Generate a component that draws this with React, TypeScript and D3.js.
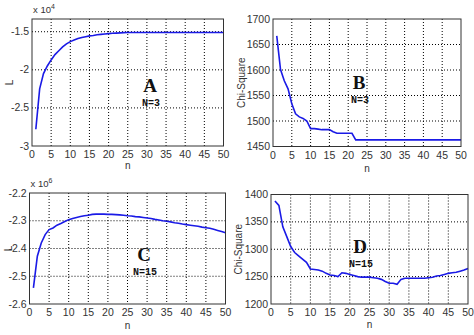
import React from "react";
import * as d3 from "d3";

// ---- Data ----
const nValues = d3.range(1, 51);

// Panel A: L (x 1e4), N=3
const seriesA = [
  -2.78, -2.25, -2.05, -1.95, -1.87, -1.8, -1.75, -1.7, -1.66, -1.63,
  -1.61, -1.59, -1.575, -1.565, -1.555, -1.55, -1.54, -1.535, -1.53, -1.525,
  -1.52, -1.518, -1.515, -1.512, -1.51, -1.51, -1.51, -1.51, -1.51, -1.51,
  -1.51, -1.51, -1.51, -1.51, -1.51, -1.51, -1.51, -1.51, -1.51, -1.51,
  -1.51, -1.51, -1.51, -1.51, -1.51, -1.51, -1.51, -1.51, -1.51, -1.51,
];

// Panel B: Chi-Square, N=3
const seriesB = [
  1667, 1601, 1579, 1563, 1534, 1514, 1508, 1505, 1500, 1485,
  1485, 1484, 1483, 1483, 1483, 1479, 1476, 1476, 1476, 1476,
  1476, 1463, 1463, 1463, 1463, 1463, 1463, 1463, 1463, 1463,
  1463, 1463, 1463, 1463, 1463, 1463, 1463, 1463, 1463, 1463,
  1463, 1463, 1463, 1463, 1463, 1463, 1463, 1463, 1463, 1463,
];

// Panel C: L (x 1e6), N=15
const seriesC = [
  -2.542, -2.428, -2.38, -2.35, -2.332, -2.326, -2.316, -2.31, -2.303, -2.296,
  -2.292, -2.288, -2.285, -2.282, -2.28, -2.277, -2.276, -2.276, -2.276, -2.277,
  -2.277, -2.278, -2.279, -2.28, -2.282, -2.283, -2.285, -2.286, -2.288, -2.29,
  -2.292, -2.295, -2.297, -2.3, -2.302, -2.304, -2.307, -2.309, -2.312, -2.314,
  -2.316, -2.318, -2.32, -2.323, -2.325, -2.327, -2.331, -2.335, -2.339, -2.343,
];

// Panel D: Chi-Square, N=15
const seriesD = [
  1388, 1380, 1341, 1323, 1305, 1294, 1288, 1282, 1276, 1264,
  1263, 1262, 1260, 1256, 1253, 1252, 1250, 1257, 1256, 1254,
  1252, 1250, 1249, 1249, 1249, 1248, 1247, 1245, 1241, 1238,
  1238, 1236, 1245, 1247, 1247, 1247, 1247, 1247, 1247, 1248,
  1249, 1251, 1252, 1254, 1256, 1257, 1258, 1260, 1262, 1265,
];

const xTicks = [0, 5, 10, 15, 20, 25, 30, 35, 40, 45, 50];
const yTicksA = [-3, -2.5, -2, -1.5];
const yTicksB = [1450, 1500, 1550, 1600, 1650, 1700];
const yTicksC = [-2.6, -2.5, -2.4, -2.3, -2.2];
const yTicksD = [1200, 1250, 1300, 1350, 1400];

const tickFont = "Liberation Sans, Arial, sans-serif";

type PanelProps = {
  left: number;
  right: number;
  top: number;
  bottom: number;
  yDomain: [number, number];
  yTicks: number[];
  values: number[];
  yLabel: string;
  yLabelX: number;
  xLabelY: number;
  exponent?: string;
  letter: string;
  letterX: number;
  letterY: number;
  nLabel: string;
};

function Panel(p: PanelProps) {
  const x = d3.scaleLinear().domain([0, 50]).range([p.left, p.right]);
  const y = d3.scaleLinear().domain(p.yDomain).range([p.bottom, p.top]);
  const line = d3
    .line<number>()
    .x((_, i) => x(nValues[i]))
    .y((v) => y(v));
  const fmt = (v: number) => String(+v.toFixed(2));
  return (
    <g>
      {/* grid */}
      {xTicks
        .filter((t) => t > 0 && t < 50)
        .map((t) => (
          <line
            key={"gx" + t}
            x1={x(t)}
            x2={x(t)}
            y1={p.top}
            y2={p.bottom}
            stroke="#000"
            strokeWidth={1}
            strokeDasharray="1,2"
          />
        ))}
      {p.yTicks
        .filter((t) => y(t) > p.top + 1 && y(t) < p.bottom - 1)
        .map((t) => (
          <line
            key={"gy" + t}
            x1={p.left}
            x2={p.right}
            y1={y(t)}
            y2={y(t)}
            stroke="#000"
            strokeWidth={1}
            strokeDasharray="1,2"
          />
        ))}
      {/* data line */}
      <path d={line(p.values) || ""} fill="none" stroke="#1a1ae6" strokeWidth={1.6} />
      {/* box */}
      <rect
        x={p.left}
        y={p.top}
        width={p.right - p.left}
        height={p.bottom - p.top}
        fill="none"
        stroke="#333"
        strokeWidth={1}
      />
      {/* tick labels */}
      {xTicks.map((t) => (
        <text
          key={"tx" + t}
          x={x(t)}
          y={p.bottom + 12}
          textAnchor="middle"
          fontFamily={tickFont}
          fontSize={10.5}
          fill="#333"
        >
          {t}
        </text>
      ))}
      {p.yTicks.map((t) => (
        <text
          key={"ty" + t}
          x={p.left - 3}
          y={y(t) + 3.5}
          textAnchor="end"
          fontFamily={tickFont}
          fontSize={10.5}
          fill="#333"
        >
          {fmt(t)}
        </text>
      ))}
      {p.exponent && (
        <text x={p.left + 1} y={p.top - 6} fontFamily={tickFont} fontSize={9.5} fill="#333">
          x 10
          <tspan dy={-4} fontSize={7}>
            {p.exponent}
          </tspan>
        </text>
      )}
      {/* axis labels */}
      <text
        x={(p.left + p.right) / 2}
        y={p.xLabelY}
        textAnchor="middle"
        fontFamily={tickFont}
        fontSize={10}
        fill="#333"
      >
        n
      </text>
      <text
        transform={`translate(${p.yLabelX},${(p.top + p.bottom) / 2}) rotate(-90)`}
        textAnchor="middle"
        fontFamily={tickFont}
        fontSize={10}
        fill="#333"
      >
        {p.yLabel}
      </text>
      {/* annotation */}
      <text
        x={p.letterX}
        y={p.letterY}
        textAnchor="middle"
        fontFamily="Liberation Serif, Times New Roman, serif"
        fontWeight="bold"
        fontSize={19}
        fill="#111"
      >
        {p.letter}
      </text>
      <text
        x={p.letterX + 1}
        y={p.letterY + 14}
        textAnchor="middle"
        fontFamily="Liberation Mono, Courier New, monospace"
        fontWeight="bold"
        fontSize={10}
        fill="#111"
      >
        {p.nLabel}
      </text>
    </g>
  );
}

export default function App() {
  return (
    <svg
      width={474}
      height={335}
      style={{ position: "absolute", left: 0, top: 0, background: "#fff" }}
    >
      <rect width={474} height={335} fill="#fff" />
      <Panel
        left={32}
        right={223.5}
        top={19}
        bottom={146}
        yDomain={[-3, -1.333]}
        yTicks={yTicksA}
        values={seriesA}
        yLabel="L"
        yLabelX={13}
        xLabelY={169}
        exponent="4"
        letter="A"
        letterX={150}
        letterY={92}
        nLabel="N=3"
      />
      <Panel
        left={273}
        right={461}
        top={19}
        bottom={146.5}
        yDomain={[1450, 1700]}
        yTicks={yTicksB}
        values={seriesB}
        yLabel="Chi-Square"
        yLabelX={245}
        xLabelY={172}
        letter="B"
        letterX={359}
        letterY={89}
        nLabel="N=3"
      />
      <Panel
        left={29.5}
        right={225.5}
        top={193}
        bottom={304}
        yDomain={[-2.6, -2.2]}
        yTicks={yTicksC}
        values={seriesC}
        yLabel="L"
        yLabelX={12}
        xLabelY={329}
        exponent="6"
        letter="C"
        letterX={144}
        letterY={261}
        nLabel="N=15"
      />
      <Panel
        left={271}
        right={468}
        top={194.5}
        bottom={304}
        yDomain={[1200, 1400]}
        yTicks={yTicksD}
        values={seriesD}
        yLabel="Chi-Square"
        yLabelX={242}
        xLabelY={328}
        letter="D"
        letterX={360}
        letterY={253}
        nLabel="N=15"
      />
    </svg>
  );
}
